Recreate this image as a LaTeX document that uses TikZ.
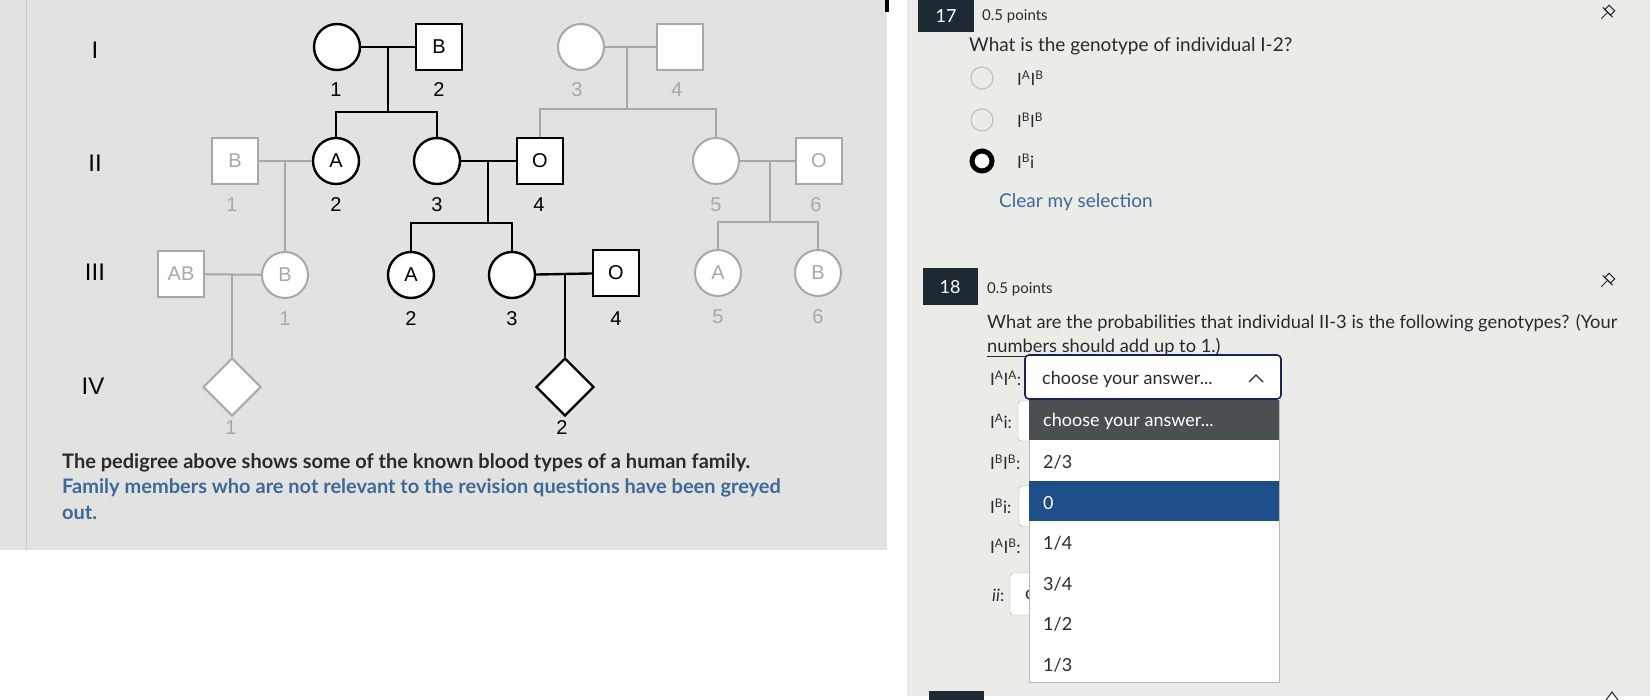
\documentclass[tikz,border=0pt]{standalone}
\usepackage{fontspec}
\setmainfont{Lato}
\newfontfamily\arial{Liberation Sans}
\usetikzlibrary{shapes.geometric}
\definecolor{lbg}{HTML}{E2E2E0}
\definecolor{rbg}{HTML}{EBEBE8}
\definecolor{gr}{HTML}{A8A8A8}
\definecolor{capblue}{HTML}{3C6A98}
\definecolor{navy}{HTML}{1E2A33}
\definecolor{selblue}{HTML}{1C4E8A}
\definecolor{dgray}{HTML}{4A4F52}
\definecolor{txt}{HTML}{2A2A2A}
\tikzset{
 fem/.style={circle,draw,line width=2.4pt,fill=white,minimum size=46pt,inner sep=0pt,font=\arial\fontsize{20}{20}\selectfont},
 mal/.style={rectangle,draw,line width=2.4pt,fill=white,minimum size=46pt,inner sep=0pt,font=\arial\fontsize{20}{20}\selectfont},
 dia/.style={diamond,draw,line width=2.4pt,fill=white,minimum size=58pt,inner sep=0pt},
 grey/.style={draw=gr,text=gr,line width=2pt},
 lab/.style={font=\arial\fontsize{20}{20}\selectfont},
 glab/.style={lab,text=gr},
 bl/.style={line width=2.4pt},
 gl/.style={line width=2pt,draw=gr},
 gen/.style={font=\arial\fontsize{24}{24}\selectfont},
 ui/.style={font=\fontsize{19}{19}\selectfont,text=txt,anchor=west,inner sep=0pt},
 uis/.style={font=\fontsize{15}{15}\selectfont,text=txt,anchor=west,inner sep=0pt},
 geno/.style={font=\fontsize{17}{17}\selectfont,text=txt,anchor=west,inner sep=0pt},
 numbox/.style={fill=navy,text=white,font=\fontsize{18}{18}\selectfont,inner sep=0pt},
 radio/.style={circle,draw=gr!70,line width=1.2pt,minimum size=22pt,inner sep=0pt},
 opt/.style={font=\fontsize{18}{18}\selectfont,text=txt,anchor=west,inner sep=0pt},
}
\newcommand{\Gt}[2]{I\textsuperscript{#1}#2}
\begin{document}
\begin{tikzpicture}[x=1pt,y=-1pt]
\useasboundingbox (0,0) rectangle (1650,700);
\fill[white] (0,0) rectangle (1650,700);
\fill[lbg] (0,0) rectangle (887,550);
\draw[gr!60,line width=1pt] (26,0) -- (26,550);
\fill[rbg] (907,0) rectangle (1650,696);
\fill[black] (885,0) rectangle (889,12);
% generation labels
\node[gen] (gI) at (95,50) {I};
\node[gen] (gII) at (95,163) {II};
\node[gen] (gIII) at (95,272) {III};
\node[gen] (gIV) at (93,386) {IV};
% gen I
\node[fem] (i1) at (337,47) {};
\node[mal] (i2) at (439,47) {B};
\node[fem,grey] (i3) at (581,47) {};
\node[mal,grey] (i4) at (680,47) {};
\node[lab] at (336,90) {1};
\node[lab] at (439,90) {2};
\node[glab] at (577,90) {3};
\node[glab] at (677,90) {4};
% gen II
\node[mal,grey] (ii1) at (235,161) {B};
\node[fem] (ii2) at (336,161) {A};
\node[fem] (ii3) at (437,161) {};
\node[mal] (ii4) at (540,161) {O};
\node[fem,grey] (ii5) at (716,161) {};
\node[mal,grey] (ii6) at (819,161) {O};
\node[glab] at (232,205) {1};
\node[lab] at (336,205) {2};
\node[lab] at (437,205) {3};
\node[lab] at (539,205) {4};
\node[glab] at (716,205) {5};
\node[glab] at (816,205) {6};
% gen III
\node[mal,grey] (iiiab) at (181,274) {AB};
\node[fem,grey] (iii1) at (285,275) {B};
\node[fem] (iii2) at (411,275) {A};
\node[fem] (iii3) at (512,275) {};
\node[mal] (iii4) at (616,273) {O};
\node[fem,grey] (iii5) at (718,273) {A};
\node[fem,grey] (iii6) at (818,273) {B};
\node[glab] at (285,319) {1};
\node[lab] at (411,319) {2};
\node[lab] at (512,319) {3};
\node[lab] at (616,319) {4};
\node[glab] at (718,317) {5};
\node[glab] at (818,317) {6};
% gen IV
\node[dia,grey] (iv1) at (232,387) {};
\node[dia] (iv2) at (565,387) {};
\node[glab] at (231,428) {1};
\node[lab] at (562,428) {2};
% grey lines
\draw[gl] (i3) -- (i4);
\coordinate (m34) at (627,47);
\draw[gl] (m34) -- (627,109);
\draw[gl] (ii4.north) |- (627,109) -| (ii5.north);
\draw[gl] (ii1) -- (ii2);
\coordinate (m12) at (285,161);
\draw[gl] (m12) -- (iii1.north);
\draw[gl] (ii5) -- (ii6);
\coordinate (m56) at (770,161);
\draw[gl] (m56) -- (770,222);
\draw[gl] (iii5.north) |- (770,222) -| (iii6.north);
\draw[gl] (iiiab) -- (iii1);
\coordinate (mab) at (232,274);
\draw[gl] (mab) -- (iv1.north);
% black lines
\draw[bl] (i1) -- (i2);
\coordinate (m1) at (388,47);
\draw[bl] (m1) -- (388,112);
\draw[bl] (ii2.north) |- (388,112) -| (ii3.north);
\draw[bl] (ii3) -- (ii4);
\coordinate (m2) at (488,161);
\draw[bl] (m2) -- (488,223);
\draw[bl] (iii2.north) |- (488,223) -| (iii3.north);
\draw[bl] (iii3) -- (iii4);
\coordinate (m3) at (565,274);
\draw[bl] (m3) -- (iv2.north);
% caption
\node[anchor=west,inner sep=0pt,font=\bfseries\fontsize{20}{20}\selectfont,text=txt] (cap1) at (62,463) {The pedigree above shows some of the known blood types of a human family.};
\node[anchor=west,inner sep=0pt,font=\bfseries\fontsize{20}{20}\selectfont,text=capblue] (cap2) at (62,488) {Family members who are not relevant to the revision questions have been greyed};
\node[anchor=west,inner sep=0pt,font=\bfseries\fontsize{20}{20}\selectfont,text=capblue] (cap3) at (62,513) {out.};
% right panel: question 17
\node[numbox,minimum width=56pt,minimum height=32pt] (q17) at (946,16) {17};
\node[uis] (p17) at (982,16) {0.5 points};
\node[ui] (t17) at (969,46) {What is the genotype of individual I-2?};
\node[radio] (r1) at (982,78) {};
\node[radio] (r2) at (982,120) {};
\node[circle,draw=black,line width=5pt,minimum size=20pt,inner sep=0pt,fill=white] (r3) at (982,161) {};
\node[geno] (g1) at (1017,78) {\Gt{A}{}\Gt{B}{}};
\node[geno] (g2) at (1017,120) {\Gt{B}{}\Gt{B}{}};
\node[geno] (g3) at (1017,161) {\Gt{B}{i}};
\node[ui,text=capblue] (clr) at (999,202) {Clear my selection};
% question 18
\node[numbox,minimum width=55pt,minimum height=37pt] (q18) at (950,287) {18};
\node[uis] (p18) at (987,289) {0.5 points};
\node[ui,font=\fontsize{18.3}{18}\selectfont] (t18a) at (987,323) {What are the probabilities that individual II-3 is the following genotypes? (Your};
\node[ui,font=\fontsize{18.3}{18}\selectfont] (t18b) at (987,347) {numbers should add up to 1.)};
\draw[txt,line width=1pt] (987,357) -- (1128,357);
% partial select boxes behind
\draw[gr,fill=white,rounded corners=3pt] (1018,401) rectangle (1090,441);
\draw[gr,fill=white,rounded corners=3pt] (1019,486) rectangle (1090,526);
\draw[gr,fill=white,rounded corners=3pt] (1010,573) rectangle (1090,615);
\node[opt] (cc) at (1025,595) {c};
% main select
\draw[draw=navy!80!blue,line width=1.6pt,fill=white,rounded corners=4pt] (1025,355) rectangle (1281,399);
\node[opt] (sel) at (1042,379) {choose your answer...};
\draw[txt,line width=1.2pt] (1249,382) -- (1256,375) -- (1263,382);
% row labels
\node[geno] (l1) at (990,378) {\Gt{A}{}\Gt{A}{}:};
\node[geno] (l2) at (990,421) {\Gt{A}{i:}};
\node[geno] (l3) at (990,462) {\Gt{B}{}\Gt{B}{}:};
\node[geno] (l4) at (990,506) {\Gt{B}{i:}};
\node[geno] (l5) at (990,546) {\Gt{A}{}\Gt{B}{}:};
\node[geno] (l6) at (992,595) {\textit{ii}:};
% dropdown
\draw[gr!80,fill=white] (1029,400) rectangle (1279,682);
\fill[dgray] (1029,400) rectangle (1279,440);
\fill[selblue] (1029,481) rectangle (1279,521);
\node[opt,text=white] (o0) at (1043,421) {choose your answer...};
\node[opt] (o1) at (1043,462) {2/3};
\node[opt,text=white] (o2) at (1043,503) {0};
\node[opt] (o3) at (1043,543) {1/4};
\node[opt] (o4) at (1043,584) {3/4};
\node[opt] (o5) at (1043,624) {1/2};
\node[opt] (o6) at (1043,665) {1/3};
% bottom bits
\fill[navy] (929,691) rectangle (984,700);
% pins
\foreach \py in {13,281}{
 \begin{scope}[shift={(1607,\py)},rotate=-45]
  \draw[txt,line width=1pt] (-4,-7) rectangle (4,-1);
  \draw[txt,line width=1pt] (-7,-1) -- (7,-1);
  \draw[txt,line width=1pt] (0,-1) -- (0,8);
 \end{scope}}
\draw[txt,line width=1pt] (1606,700) -- (1612,692) -- (1618,700);
\end{tikzpicture}
\end{document}
